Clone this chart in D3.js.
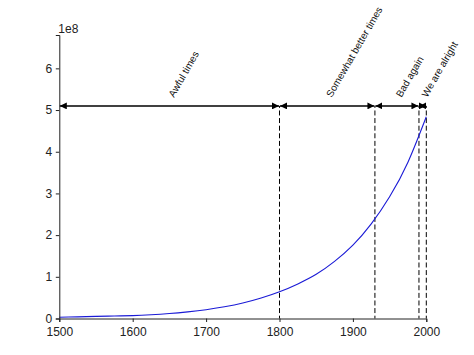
<!DOCTYPE html>
<html>
<head>
<meta charset="utf-8">
<script src="https://cdn.jsdelivr.net/npm/d3@7"></script>
<style>
  body { margin: 0; background: #fff; }
  svg { font-family: "Liberation Sans", Arial, sans-serif; }
  .axis path, .axis line { stroke: #222; }
  .axis text { fill: #222; font-size: 12px; font-family: "Liberation Sans", Arial, sans-serif; }
</style>
</head>
<body>
<svg width="474" height="355"></svg>
<script>
// population curve (units of 1e8)
var years = [1500, 1525, 1550, 1575, 1600, 1625, 1650, 1675, 1700, 1725, 1750,
             1775, 1800, 1825, 1850, 1875, 1900, 1925, 1950, 1975, 2000];
var values = [0.03, 0.04, 0.05, 0.06, 0.07, 0.09, 0.12, 0.16, 0.21, 0.28, 0.37,
              0.49, 0.64, 0.83, 1.06, 1.37, 1.76, 2.27, 2.92, 3.75, 4.84];

// periods between the dashed lines
var periodStarts = [1500, 1800, 1930, 1990];
var periodEnds = [1800, 1930, 1990, 2000];
var periodNames = ['Awful times', 'Somewhat better times', 'Bad again', 'We are alright'];
var boundaries = [1800, 1930, 1990, 2000];
var arrowLevel = 5.1;

var xTicks = [1500, 1600, 1700, 1800, 1900, 2000];
var yTicks = [0, 1, 2, 3, 4, 5, 6];

var svg = d3.select('svg');

var xScale = d3.scaleLinear().domain([1500, 2000]).range([59.3, 426.3]);
var yScale = d3.scaleLinear().domain([0, 6.8]).range([318.5, 35]);

// arrow heads
var defs = svg.append('defs');
defs.append('marker')
    .attr('id', 'head')
    .attr('viewBox', '0 0 10 10')
    .attr('refX', 10)
    .attr('refY', 5)
    .attr('markerWidth', 7)
    .attr('markerHeight', 7)
    .attr('markerUnits', 'userSpaceOnUse')
    .attr('orient', 'auto-start-reverse')
    .append('path')
    .attr('d', 'M0,0L10,5L0,10Z')
    .attr('fill', '#000');

// dashed boundaries
svg.selectAll('.bound')
    .data(boundaries)
    .enter().append('line')
    .attr('class', 'bound')
    .attr('x1', function(d) { return xScale(d); })
    .attr('x2', function(d) { return xScale(d); })
    .attr('y1', yScale(arrowLevel))
    .attr('y2', yScale(0))
    .attr('stroke', '#000')
    .attr('stroke-width', 1)
    .attr('stroke-dasharray', '5,2.6')
    .attr('stroke-dashoffset', 3);

// the curve
var line = d3.line()
    .x(function(d, i) { return xScale(years[i]); })
    .y(function(d) { return yScale(d); })
    .curve(d3.curveNatural);

svg.append('path')
    .datum(values)
    .attr('d', line)
    .attr('fill', 'none')
    .attr('stroke', '#1a1ad6')
    .attr('stroke-width', 1.1);

// double arrows
svg.selectAll('.arrow')
    .data(periodStarts)
    .enter().append('line')
    .attr('class', 'arrow')
    .attr('x1', function(d) { return xScale(d) + 0.5; })
    .attr('x2', function(d, i) { return xScale(periodEnds[i]) - 0.5; })
    .attr('y1', yScale(arrowLevel))
    .attr('y2', yScale(arrowLevel))
    .attr('stroke', '#000')
    .attr('stroke-width', 1.5)
    .attr('marker-start', 'url(#head)')
    .attr('marker-end', 'url(#head)');

// rotated labels
svg.selectAll('.label')
    .data(periodNames)
    .enter().append('text')
    .attr('class', 'label')
    .attr('transform', function(d, i) {
        var mid = (periodStarts[i] + periodEnds[i]) / 2;
        return 'translate(' + [xScale(mid) + 4.5, yScale(arrowLevel) - 8] + ') rotate(-60)';
    })
    .attr('font-size', 10)
    .attr('fill', '#111')
    .text(function(d) { return d; });

// axes
var xAxisG = svg.append('g')
    .attr('class', 'axis')
    .attr('transform', 'translate(0,' + yScale(0) + ')')
    .call(d3.axisBottom(xScale).tickValues(xTicks).tickFormat(d3.format('d'))
        .tickSizeOuter(0).tickSize(3.5).tickPadding(5));

var yAxisG = svg.append('g')
    .attr('class', 'axis')
    .attr('transform', 'translate(' + xScale(1500) + ',0)')
    .call(d3.axisLeft(yScale).tickValues(yTicks).tickFormat(d3.format('d'))
        .tickSizeOuter(0).tickSize(3.5).tickPadding(3.5));

svg.append('text')
    .attr('x', xScale(1500) - 1)
    .attr('y', 33)
    .attr('font-size', 12)
    .attr('fill', '#222')
    .text('1e8');
</script>
</body>
</html>
